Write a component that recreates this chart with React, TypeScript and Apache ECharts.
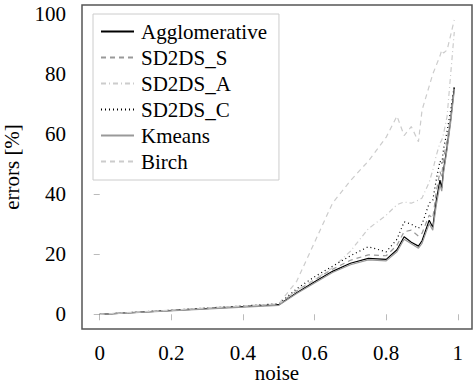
import React, { useEffect, useRef } from "react";
import * as echarts from "echarts";

const noise = [0, 0.5, 0.55, 0.6, 0.65, 0.7, 0.75, 0.8, 0.83, 0.85, 0.87, 0.89, 0.9, 0.92, 0.93, 0.94, 0.95, 0.955, 0.96, 0.97, 0.98, 0.99];

const agglomerative = [0, 3.2, 7.2, 10.8, 14.3, 17, 18.6, 18.3, 21.5, 25.8, 24, 22.7, 24.5, 31.3, 29, 38, 44.7, 42, 48, 55.8, 65, 75.5];
const sd2dsS = [0, 3.3, 7.8, 11.5, 15, 18, 19.8, 19.5, 23, 27.5, 28, 26, 27, 33, 32, 41, 47.5, 46, 52, 58, 66, 75];
const sd2dsA = [0, 3.4, 8, 11.5, 15.5, 21, 28.5, 33, 36.5, 37.4, 37, 38, 38.7, 44, 48, 53, 57, 58, 60, 66, 80, 94];
const sd2dsC = [0, 3.5, 8.5, 12.5, 16, 19.5, 22.5, 20.8, 25, 30.8, 30, 28.6, 30, 37, 38, 45, 51, 50, 55, 61, 68, 76];
const kmeans = [0, 3.0, 6.9, 10.4, 13.9, 16.5, 18.1, 17.8, 20.8, 25, 23.5, 22, 23.6, 30.2, 28, 36.5, 43.2, 41, 47, 55, 64, 74.5];
const birch = [0, 3.5, 11, 24, 37, 44.5, 51, 59, 66, 59.5, 62.5, 57.5, 68, 76, 80, 83, 86, 88, 87, 88, 93, 98];

const xTicks = [0, 0.2, 0.4, 0.6, 0.8, 1];
const yTicks = [0, 20, 40, 60, 80, 100];

const FONT = "Liberation Serif, Times New Roman, serif";

export default function App() {
  const ref = useRef<HTMLDivElement>(null);
  useEffect(() => {
    document.body.style.margin = "0";
    if (!ref.current) return;
    const chart = echarts.init(ref.current, undefined, { renderer: "svg" });
    const mk = (name: string, vals: number[], color: string, type: any, width = 1.2) => ({
      name,
      type: "line",
      data: noise.map((x, i) => [x, vals[i]]),
      symbol: "none",
      lineStyle: { color, type, width },
      itemStyle: { color, opacity: 0 },
      z: 2,
    });
    chart.setOption({
      animation: false,
      backgroundColor: "#fff",
      textStyle: { fontFamily: FONT },
      grid: {
        left: 82,
        right: 2,
        top: 5,
        bottom: 58,
        show: true,
        outerBoundsMode: "none",
        containLabel: false,
        borderColor: "#555",
        borderWidth: 1.5,
        backgroundColor: "transparent",
      },
      legend: {
        orient: "vertical",
        left: 93,
        top: 14,
        padding: [7, 12, 8, 7],
        itemWidth: 33,
        itemHeight: 14,
        itemGap: 5,
        backgroundColor: "#fff",
        borderColor: "#ccc",
        borderWidth: 1,
        borderRadius: 0,
        itemStyle: { opacity: 0 },
        textStyle: { fontFamily: FONT, fontSize: 21, color: "#000", lineHeight: 21, padding: [0, 0, 0, 2] },
        data: ["Agglomerative", "SD2DS_S", "SD2DS_A", "SD2DS_C", "Kmeans", "Birch"],
      },
      xAxis: {
        type: "value",
        min: -0.0495,
        max: 1.0395,
        offset: 1.5,
        name: "noise",
        nameLocation: "middle",
        nameGap: 32,
        nameMoveOverlap: false,
        nameTextStyle: { fontFamily: FONT, fontSize: 21, color: "#000", lineHeight: 21 },
        axisLine: { show: false },
        splitLine: { show: false },
        axisTick: { show: true, length: 6, customValues: xTicks, lineStyle: { color: "#bbb", width: 1 } },
        axisLabel: {
          customValues: xTicks,
          margin: 12,
          fontFamily: FONT,
          fontSize: 21,
          color: "#000",
          formatter: (v: number) => String(Math.round(v * 10) / 10),
        },
      },
      yAxis: {
        type: "value",
        min: -4.9,
        max: 103,
        offset: 2,
        name: "errors [%]",
        nameLocation: "middle",
        nameGap: 58,
        nameMoveOverlap: false,
        nameTextStyle: { fontFamily: FONT, fontSize: 21, color: "#000", lineHeight: 21 },
        axisLine: { show: false },
        splitLine: { show: false },
        axisTick: { show: true, length: 6, customValues: yTicks, lineStyle: { color: "#bbb", width: 1 } },
        axisLabel: {
          customValues: yTicks,
          margin: 14,
          fontFamily: FONT,
          fontSize: 21,
          color: "#000",
        },
      },
      series: [
        mk("Agglomerative", agglomerative, "#000", "solid", 1.2),
        mk("SD2DS_S", sd2dsS, "#999", [5, 4], 1.2),
        mk("SD2DS_A", sd2dsA, "#ccc", [5, 3, 1, 3], 1.2),
        mk("SD2DS_C", sd2dsC, "#000", [1, 3], 1.2),
        mk("Kmeans", kmeans, "#999", "solid", 1.2),
        mk("Birch", birch, "#ccc", [5, 4], 1.2),
      ],
    });
    return () => chart.dispose();
  }, []);
  return <div ref={ref} style={{ position: "fixed", left: 0, top: 0, width: 474, height: 387 }} />;
}
